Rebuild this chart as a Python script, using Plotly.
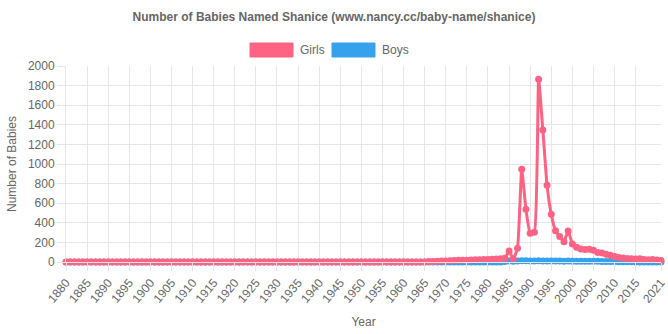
import plotly.graph_objects as go

years = list(range(1880, 2022))

girls_known = {
    1966: 5, 1967: 6, 1968: 8, 1969: 9, 1970: 11, 1971: 14, 1972: 15, 1973: 17,
    1974: 18, 1975: 19, 1976: 20, 1977: 22, 1978: 23, 1979: 25, 1980: 26,
    1981: 28, 1982: 30, 1983: 33, 1984: 38, 1985: 112, 1986: 30, 1987: 140,
    1988: 946, 1989: 537, 1990: 293, 1991: 303, 1992: 1864, 1993: 1347,
    1994: 782, 1995: 486, 1996: 320, 1997: 259, 1998: 207, 1999: 316,
    2000: 184, 2001: 150, 2002: 132, 2003: 128, 2004: 130, 2005: 120,
    2006: 98, 2007: 92, 2008: 80, 2009: 70, 2010: 56, 2011: 45, 2012: 40,
    2013: 36, 2014: 32, 2015: 30, 2016: 32, 2017: 26, 2018: 22, 2019: 25,
    2020: 20, 2021: 16,
}
boys_known = {
    1984: 5, 1985: 10, 1986: 8, 1987: 10, 1988: 12, 1989: 12, 1990: 10,
    1991: 10, 1992: 12, 1993: 11, 1994: 10, 1995: 10, 1996: 9, 1997: 9,
    1998: 8, 1999: 9, 2000: 8, 2001: 8, 2002: 7, 2003: 8, 2004: 7,
    2005: 7, 2006: 7, 2007: 6, 2008: 6, 2009: 5, 2010: 4, 2011: 3,
    2012: 3, 2013: 2, 2014: 2, 2015: 1, 2016: 1, 2017: 1, 2018: 1,
    2019: 1, 2020: 0, 2021: 0,
}
girls = [girls_known.get(y, 0) for y in years]
boys = [boys_known.get(y, 0) for y in years]

tick_years = list(range(1880, 2020, 5)) + [2021]
y_ticks = list(range(0, 2001, 200))

GRAY = "#666666"
FONT = "Liberation Sans, Arial, Helvetica, sans-serif"

fig = go.Figure()
fig.add_trace(go.Scatter(
    x=years, y=boys, name="Boys", mode="lines+markers",
    line=dict(color="#36a2eb", width=3),
    marker=dict(color="#36a2eb", size=7),
    cliponaxis=False, showlegend=False,
))
fig.add_trace(go.Scatter(
    x=years, y=girls, name="Girls", mode="lines+markers",
    line=dict(color="#ff6384", width=3, shape="spline", smoothing=0.4),
    marker=dict(color="#ff6384", size=7),
    cliponaxis=False, showlegend=False,
))

fig.update_layout(
    width=668, height=334,
    margin=dict(l=66, r=7, t=66, b=72),
    paper_bgcolor="white", plot_bgcolor="white",
    font=dict(family=FONT, size=12, color=GRAY),
    title=dict(
        text="<b>Number of Babies Named Shanice (www.nancy.cc/baby-name/shanice)</b>",
        x=0.5, xanchor="center", y=1 - 17 / 334, yanchor="middle",
        font=dict(size=12, color=GRAY, family=FONT),
    ),
    xaxis=dict(
        range=[1880, 2021], tickmode="array", tickvals=tick_years,
        ticktext=[str(t) for t in tick_years], tickangle=-50,
        automargin=False, ticklabeloverflow="allow",
        showgrid=True, gridcolor="#e6e6e6", gridwidth=1,
        ticks="outside", ticklen=8, tickcolor="#e6e6e6",
        showline=True, linecolor="#e6e6e6", zeroline=False,
        tickfont=dict(size=12, color=GRAY),
        title=dict(text="Year", font=dict(size=12, color=GRAY), standoff=12),
    ),
    yaxis=dict(
        range=[0, 2000], tickmode="array", tickvals=y_ticks,
        automargin=False,
        showgrid=True, gridcolor="#e6e6e6", gridwidth=1,
        ticks="outside", ticklen=8, tickcolor="#e6e6e6",
        showline=True, linecolor="#e6e6e6", zeroline=False,
        tickfont=dict(size=12, color=GRAY),
        title=dict(text="Number of Babies", font=dict(size=12, color=GRAY), standoff=8),
    ),
)

# Legend (Chart.js style boxes)
legend_items = [("Girls", "#ff6384", 250), ("Boys", "#36a2eb", 332)]
for label, color, x0 in legend_items:
    fig.add_shape(type="rect", xref="paper", yref="paper",
                  x0=(x0 - 66) / 595, x1=(x0 + 43 - 66) / 595,
                  y0=(262 - 57) / 196, y1=(262 - 43) / 196,
                  fillcolor=color, line=dict(color=color, width=1))
    fig.add_annotation(xref="paper", yref="paper",
                       x=(x0 + 48 - 66) / 595, y=(262 - 50) / 196,
                       text=label, showarrow=False, xanchor="left", yanchor="middle",
                       font=dict(size=12, color=GRAY, family=FONT))

fig.write_html("out.html")
